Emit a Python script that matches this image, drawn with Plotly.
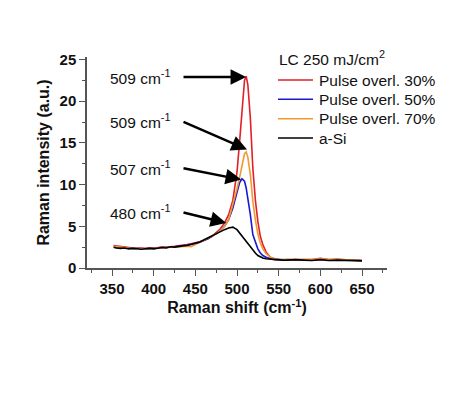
import plotly.graph_objects as go

shift = [352, 355, 360, 365, 370, 375, 380, 385, 390, 395, 400, 405, 410, 415, 420, 425, 430, 435,
         440, 445, 450, 455, 460, 465, 470, 475, 480, 485, 490, 495, 500, 503, 506, 509, 511, 513,
         516, 519, 522, 525, 528, 531, 535, 540, 545, 550, 555, 560, 570, 580, 590, 600, 605, 610,
         620, 630, 640, 650]

red = [2.7, 2.65, 2.6, 2.5, 2.45, 2.4, 2.4, 2.35, 2.35, 2.4, 2.4, 2.45, 2.5, 2.5, 2.55, 2.6, 2.65, 2.7,
       2.8, 2.9, 3.0, 3.15, 3.3, 3.5, 3.8, 4.2, 4.7, 5.4, 6.4, 8.1, 11.5, 15.0, 19.0, 22.5, 23.0, 22.0,
       18.0, 12.0, 8.2, 5.6, 3.8, 2.8, 1.9, 1.3, 1.1, 1.0, 0.95, 1.0, 1.0, 1.05, 1.0, 1.15, 1.05, 1.0,
       1.05, 1.0, 0.95, 0.9]

blue = [2.6, 2.5, 2.45, 2.4, 2.4, 2.35, 2.35, 2.3, 2.3, 2.35, 2.35, 2.4, 2.45, 2.45, 2.5, 2.55, 2.6, 2.65,
        2.75, 2.85, 2.95, 3.1, 3.3, 3.5, 3.8, 4.1, 4.5, 5.0, 5.8, 7.2, 9.3, 10.2, 10.7, 10.4, 9.6, 8.5,
        6.4, 4.0, 3.0, 2.3, 1.8, 1.5, 1.3, 1.1, 1.0, 1.0, 0.95, 0.95, 1.0, 1.0, 0.95, 1.05, 1.0, 0.95,
        1.0, 0.95, 0.9, 0.9]

orange = [2.6, 2.55, 2.5, 2.45, 2.4, 2.4, 2.35, 2.3, 2.3, 2.35, 2.35, 2.4, 2.45, 2.45, 2.5, 2.5, 2.55, 2.55,
          2.6, 2.55, 2.8, 3.0, 3.3, 3.5, 3.8, 4.1, 4.5, 5.0, 5.8, 7.5, 9.5, 10.8, 12.5, 13.7, 13.9, 13.3,
          11.2, 8.0, 5.8, 4.1, 3.0, 2.3, 1.7, 1.3, 1.1, 1.0, 1.0, 1.0, 1.05, 1.0, 1.0, 1.1, 1.05, 1.0,
          1.0, 1.0, 0.95, 0.9]

black = [2.5, 2.4, 2.35, 2.4, 2.3, 2.35, 2.3, 2.25, 2.3, 2.35, 2.3, 2.4, 2.45, 2.4, 2.55, 2.5, 2.6, 2.65,
         2.7, 2.85, 3.0, 3.1, 3.35, 3.6, 3.9, 4.1, 4.4, 4.6, 4.8, 4.9, 4.6, 4.2, 3.9, 3.5, 3.2, 2.9,
         2.5, 2.1, 1.8, 1.5, 1.3, 1.2, 1.1, 1.05, 1.0, 1.0, 0.95, 0.95, 1.0, 0.95, 0.9, 1.0, 0.95, 0.9,
         0.95, 0.9, 0.9, 0.85]

series_names = ["Pulse overl. 30%", "Pulse overl. 50%", "Pulse overl. 70%", "a-Si"]
series_colors = ["#e32028", "#1a1ad0", "#f09a30", "#000000"]
series_values = [red, blue, orange, black]
legend_title = "LC 250 mJ/cm<sup>2</sup>"

x_ticks = [350, 400, 450, 500, 550, 600, 650]
y_ticks = [0, 5, 10, 15, 20, 25]

# annotations: label, tip (x, y), tail (x, y)
ann_labels = ["509 cm<sup>-1</sup>", "509 cm<sup>-1</sup>", "507 cm<sup>-1</sup>", "480 cm<sup>-1</sup>"]
ann_tip_x = [511, 512, 505, 487]
ann_tip_y = [22.9, 14.2, 10.6, 5.4]
ann_tail_x = [434, 434, 434, 434]
ann_tail_y = [22.9, 17.6, 12.0, 6.7]

FONT = "Liberation Sans, Arial"

# layout geometry (figure pixels; page adds an 8px body margin)
W, H = 466, 385
ML, MR, MT, MB = 79, 87, 49, 125
PW, PH = W - ML - MR, H - MT - MB


def px(fx):
    return (fx - ML) / PW


def py(fy):
    return (H - MB - fy) / PH


fig = go.Figure()
for name, col, vals in zip(series_names, series_colors, series_values):
    fig.add_trace(go.Scatter(x=shift, y=vals, mode="lines", name=name,
                             line=dict(color=col, width=1.6), showlegend=False))

annotations = []
for lab, tx, ty, ax, ay in zip(ann_labels, ann_tip_x, ann_tip_y, ann_tail_x, ann_tail_y):
    annotations.append(dict(x=tx, y=ty, ax=ax, ay=ay, xref="x", yref="y", axref="x", ayref="y",
                            text="", showarrow=True, arrowhead=2, arrowsize=1.3, arrowwidth=2.4,
                            arrowcolor="black"))
    annotations.append(dict(x=ax - 11, y=ay, xref="x", yref="y", text=lab, showarrow=False,
                            xanchor="right", yanchor="middle",
                            font=dict(size=15.5, color="#111", family=FONT)))

# legend drawn as text + line samples
shapes = []
annotations.append(dict(x=px(269), y=py(50), xref="paper", yref="paper", text=legend_title,
                        showarrow=False, xanchor="left", yanchor="middle",
                        font=dict(size=15.5, color="#111", family=FONT)))
row_y = [72, 91.3, 110.7, 130]
for name, col, ry in zip(series_names, series_colors, row_y):
    shapes.append(dict(type="line", xref="paper", yref="paper", x0=px(270), x1=px(305),
                       y0=py(ry), y1=py(ry), line=dict(color=col, width=1.5)))
    annotations.append(dict(x=px(309), y=py(ry), xref="paper", yref="paper", text=name,
                            showarrow=False, xanchor="left", yanchor="middle",
                            font=dict(size=15.5, color="#111", family=FONT)))

fig.update_layout(
    width=W, height=H,
    margin=dict(l=ML, r=MR, t=MT, b=MB, autoexpand=False),
    plot_bgcolor="white", paper_bgcolor="white",
    font=dict(family=FONT, color="#111"),
    annotations=annotations, shapes=shapes,
    showlegend=False,
)
fig.update_xaxes(range=[320, 680], tickvals=x_ticks, automargin=False,
                 showline=True, linecolor="#555", linewidth=1.5, ticks="outside", ticklen=6,
                 tickcolor="#555", showgrid=False, zeroline=False,
                 minor=dict(ticks="outside", ticklen=3, tickcolor="#555", dtick=25, showgrid=False),
                 tickfont=dict(size=15, weight="bold"),
                 title=dict(text="Raman shift (cm<sup>-1</sup>)", standoff=3,
                            font=dict(size=16, weight="bold")))
fig.update_yaxes(range=[0, 25.3], tickvals=y_ticks, automargin=False,
                 showline=True, linecolor="#555", linewidth=1.5, ticks="outside", ticklen=6,
                 tickcolor="#555", showgrid=False, zeroline=False,
                 minor=dict(ticks="outside", ticklen=3, tickcolor="#555", dtick=2.5, showgrid=False),
                 tickfont=dict(size=15, weight="bold"),
                 title=dict(text="Raman intensity (a.u.)", standoff=6,
                            font=dict(size=16, weight="bold")))

fig.write_html("out.html")
